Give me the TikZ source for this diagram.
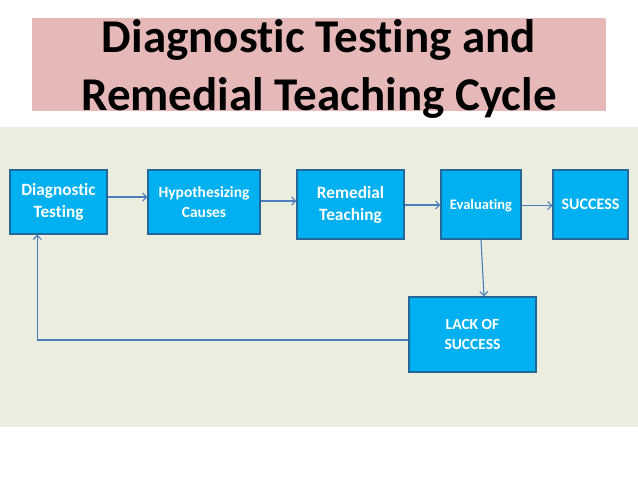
\documentclass[tikz,border=0pt]{standalone}
\usepackage{fontspec}
\setmainfont{Carlito}[Ligatures=NoCommon]
\usetikzlibrary{arrows.meta,calc}
\definecolor{boxfill}{HTML}{00B0F0}
\definecolor{boxline}{HTML}{24689A}
\definecolor{arrowc}{HTML}{4A7EBB}
\definecolor{bggreen}{HTML}{EBEEDF}
\definecolor{titlepink}{HTML}{E6B9B8}
\tikzset{
  x=1pt,y=1pt,
  stepbox/.style={draw=boxline,fill=boxfill,line width=1.3pt,text=white,
    font=\bfseries,align=center,inner sep=0pt},
  flow/.style={draw=arrowc,line width=1.1pt,-{Straight Barb[length=4pt,width=8pt]}}
}
\begin{document}
\begin{tikzpicture}
\useasboundingbox (0,0) rectangle (638,478);
\fill[white] (0,0) rectangle (638,478);
\fill[bggreen] (0,51) rectangle (638,351);
\fill[titlepink] (32,367) rectangle (606,460);
\node[font=\fontsize{47}{58}\selectfont\bfseries,align=center] (title) at (319,409)
  {Diagnostic Testing and\\Remedial Teaching Cycle};

\node[stepbox,minimum width=97,minimum height=64,font=\fontsize{17.2}{22}\selectfont\bfseries] (diag) at (58.5,276) {Diagnostic\\Testing};
\node[stepbox,minimum width=112,minimum height=64,font=\fontsize{15.5}{20}\selectfont\bfseries] (hyp) at (204,276) {Hypothesizing\\Causes};
\node[stepbox,minimum width=107,minimum height=69,font=\fontsize{17.3}{22}\selectfont\bfseries] (rem) at (350.5,273.5) {Remedial\\Teaching};
\node[stepbox,minimum width=80,minimum height=69,text depth=0pt,font=\fontsize{14.5}{18}\selectfont\bfseries] (eval) at (481,273.5) {Evaluating};
\node[stepbox,minimum width=75,minimum height=69,font=\fontsize{16}{18}\selectfont\bfseries] (succ) at (590.5,273.5) {SUCCESS};
\node[stepbox,minimum width=127,minimum height=75,font=\fontsize{15.5}{20}\selectfont\bfseries] (lack) at (472.5,143.5) {LACK OF\\SUCCESS};

\draw[flow] ($(diag.east)+(0,5)$) -- ($(hyp.west)+(0,5)$);
\draw[flow] ($(hyp.east)+(0,1)$) -- ($(rem.west)+(0,3.5)$);
\draw[flow] ($(rem.east)+(0,-0.5)$) -- ($(eval.west)+(0,-0.5)$);
\draw[flow] ($(eval.east)+(0,-1)$) -- ($(succ.west)+(0,-1)$);
\draw[flow] (eval.south) -- ($(lack.north)+(11.5,0)$);
\coordinate (corner) at ($(lack.west)+(-371,-5.5)$);
\draw[flow] ($(lack.west)+(0,-5.5)$) -- (corner) -- (corner |- diag.south);
\end{tikzpicture}
\end{document}
